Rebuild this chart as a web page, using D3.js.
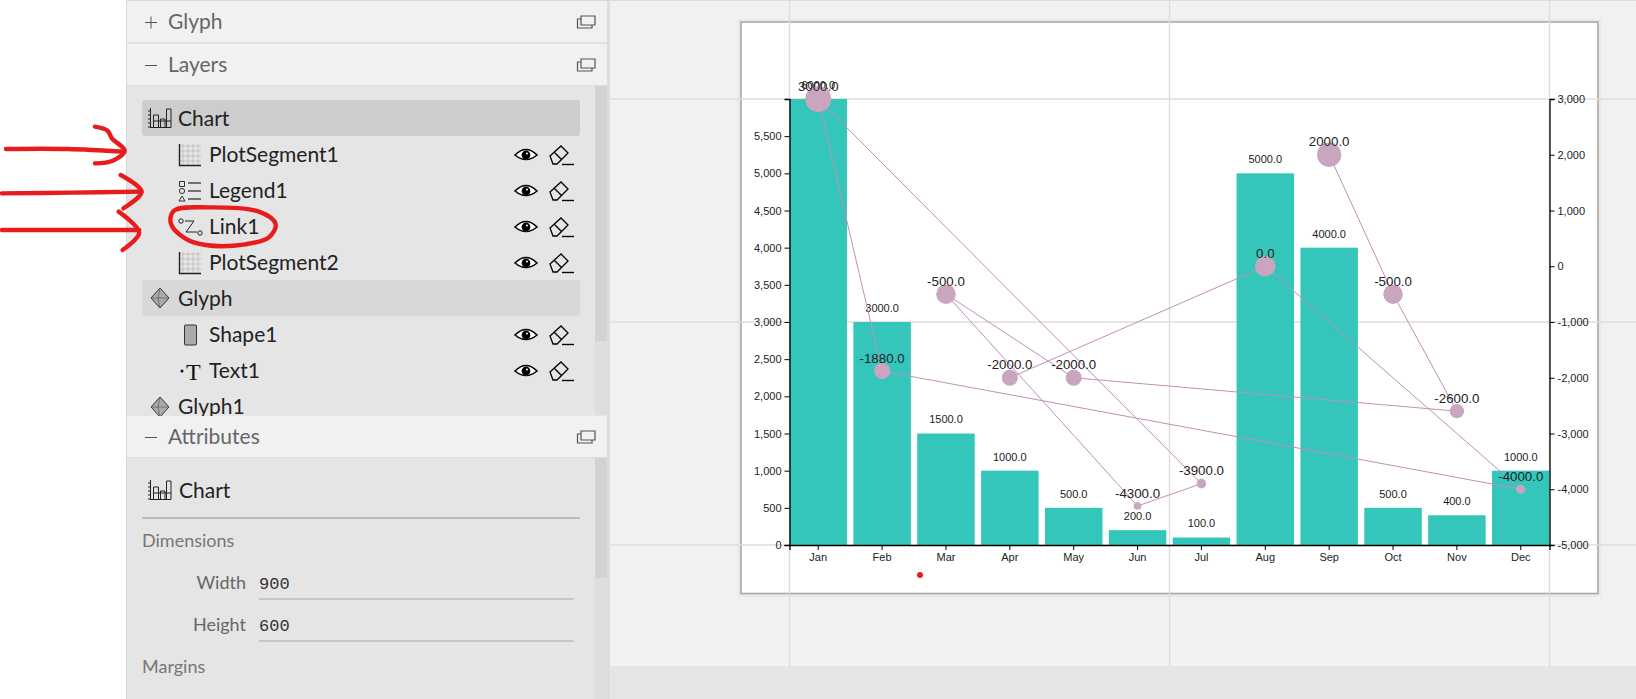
<!DOCTYPE html>
<html>
<head>
<meta charset="utf-8">
<script src="https://cdn.jsdelivr.net/npm/d3@7"></script>
<style>
  html, body { margin: 0; padding: 0; background: #fff; overflow: hidden; }
  svg { display: block; }
  .ui { font-family: Lato, "Open Sans", sans-serif; }
  .chart text { font-family: "Liberation Sans", Arial, sans-serif; fill: #222; }
</style>
</head>
<body>
<svg id="page" width="1636" height="699"></svg>
<script>
// chart values
const months = ["Jan", "Feb", "Mar", "Apr", "May", "Jun", "Jul", "Aug", "Sep", "Oct", "Nov", "Dec"];
const barValues = [6000, 3000, 1500, 1000, 500, 200, 100, 5000, 4000, 500, 400, 1000];
const dotValues = [3000, -1880, -500, -2000, -2000, -4300, -3900, 0, 2000, -500, -2600, -4000];
const leftTicks = [0, 500, 1000, 1500, 2000, 2500, 3000, 3500, 4000, 4500, 5000, 5500];
const rightTicks = [-5000, -4000, -3000, -2000, -1000, 0, 1000, 2000, 3000];
const linkFrom = ["Jan", "Jan", "Feb", "Mar", "Mar", "Apr", "May", "Jun", "Aug", "Sep", "Oct"];
const linkTo = ["Feb", "Jul", "Dec", "May", "Jun", "Aug", "Nov", "Jul", "Dec", "Oct", "Nov"];

// side panel text
const layerNames = ["PlotSegment1", "Legend1", "Link1", "PlotSegment2"];
const layerIcons = ["grid", "legend", "link", "grid"];
const glyphNames = ["Shape1", "Text1"];
const glyphIcons = ["shape", "text"];
const dimensionNames = ["Width", "Height"];
const dimensionValues = ["900", "600"];

const svg = d3.select("#page");
const ui = svg.append("g").attr("class", "ui");

function box(parent, x, y, w, h, fill) {
  return parent.append("rect").attr("x", x).attr("y", y).attr("width", w).attr("height", h).attr("fill", fill);
}

function label(parent, x, y, txt, size, fill, anchor) {
  return parent.append("text")
    .attr("x", x).attr("y", y)
    .attr("dy", "0.35em")
    .attr("text-anchor", anchor || "start")
    .style("font-size", size + "px")
    .style("fill", fill)
    .text(txt);
}

function stroke(parent, d, color, width) {
  return parent.append("path").attr("d", d).attr("fill", "none").attr("stroke", color).attr("stroke-width", width || 1);
}

// ---- icons ----
function eyeIcon(cy) {
  const g = ui.append("g").attr("transform", `translate(526,${cy})`);
  g.append("path").attr("d", "M-11,0 Q0,-11 11,0 Q0,9 -11,0 Z").attr("fill", "#fff").attr("stroke", "#000").attr("stroke-width", 1.6);
  g.append("circle").attr("r", 4.4).attr("fill", "#000");
  g.append("circle").attr("cx", 1).attr("cy", -1.5).attr("r", 1).attr("fill", "#fff");
}

function eraserIcon(cy) {
  const g = ui.append("g").attr("transform", `translate(550,${cy})`);
  stroke(g, "M0,1 L11,-9 L18,-2 L7,9 L3,9 Z M4,-3 L12,5", "#000", 1.3);
  stroke(g, "M12,9.5 H24", "#000", 1.4);
}

function windowIcon(cy) {
  const g = ui.append("g").attr("transform", `translate(577,${cy})`);
  stroke(g, "M4,-6 H18 V3 H4 Z", "#555", 1.2);
  stroke(g, "M4,-3 H0.5 V6 H15 V3", "#555", 1.2);
}

function gridIcon(cy) {
  const g = ui.append("g").attr("transform", `translate(179,${cy - 11})`);
  [4, 9, 14, 19].forEach(p => {
    stroke(g, `M${p},0 V22`, "#bbb", 0.8);
    stroke(g, `M0,${p - 2} H22`, "#bbb", 0.8);
  });
  stroke(g, "M0.5,0 V21.5 H22", "#222", 1.4);
}

function legendIcon(cy) {
  const g = ui.append("g").attr("transform", `translate(179,${cy - 10})`);
  stroke(g, "M0.5,0.5 H5.5 V5.5 H0.5 Z", "#333", 1);
  g.append("circle").attr("cx", 3).attr("cy", 10).attr("r", 2.6).attr("fill", "none").attr("stroke", "#333");
  stroke(g, "M3,15 L6,20 H0 Z", "#333", 1);
  [2, 10, 18].forEach(p => stroke(g, `M9,${p} H22`, "#555", 1.6));
}

function linkIcon(cy) {
  const g = ui.append("g").attr("transform", `translate(178,${cy - 8})`);
  g.append("circle").attr("cx", 3).attr("cy", 2).attr("r", 2.2).attr("fill", "none").attr("stroke", "#222");
  g.append("circle").attr("cx", 22).attr("cy", 14).attr("r", 2.2).attr("fill", "none").attr("stroke", "#222");
  stroke(g, "M7,2 H16 L8,13 H19", "#222", 1);
}

function chartIcon(cy) {
  const g = ui.append("g").attr("transform", `translate(148,${cy - 10})`);
  stroke(g, "M2.5,0 V20 M0,3 H3 M0,7 H3 M0,11 H3 M0,15 H3 M0,19 H3", "#222", 1);
  stroke(g, "M5.5,7 H10.5 V19.5 H5.5 Z M12.5,11 H17 V19.5 H12.5 Z M18.5,1 H23 V19.5 H18.5 Z", "#222", 1);
  stroke(g, "M3,19.5 H23 M5.5,13 H23", "#222", 1);
}

function glyphIcon(cy) {
  const g = ui.append("g").attr("transform", `translate(160,${cy})`);
  g.append("path").attr("d", "M0,-10 L9,0 L0,10 L-9,0 Z").attr("fill", "#aaa").attr("stroke", "#333").attr("stroke-width", 1);
  stroke(g, "M0,-10 L-2,0 L0,10 M-9,0 L9,0", "#666", 0.8);
}

function shapeIcon(cy) {
  ui.append("rect").attr("x", 184.5).attr("y", cy - 10).attr("width", 12).attr("height", 20).attr("rx", 1)
    .attr("fill", "#aaa").attr("stroke", "#333");
}

function textIcon(cy) {
  ui.append("circle").attr("cx", 182).attr("cy", cy).attr("r", 1.5).attr("fill", "#111");
  ui.append("text").attr("x", 186).attr("y", cy + 8.5).style("font-family", "'Liberation Serif', serif").style("font-size", "24px").style("fill", "#111").text("T");
}

const iconDraw = { grid: gridIcon, legend: legendIcon, link: linkIcon, shape: shapeIcon, text: textIcon };

// ---- page frame ----
function drawPanel() {
  box(ui, 126, 0, 484, 699, "#e5e5e5");
  box(ui, 126, 0, 1, 699, "#d8d8d8");
  box(ui, 595, 85, 12, 256, "#d2d2d2");
  box(ui, 595, 341, 12, 74, "#dedede");
  box(ui, 595, 457, 12, 121, "#d2d2d2");
  box(ui, 595, 578, 12, 121, "#dedede");
  box(ui, 607, 0, 3, 699, "#dcdcdc");

  // layers list
  box(ui, 142, 100, 438, 36, "#cdcdcd").attr("rx", 3);
  chartIcon(118);
  label(ui, 178, 119, "Chart", 21, "#222");
  layerNames.forEach((name, i) => {
    const cy = 155 + i * 36;
    iconDraw[layerIcons[i]](cy);
    label(ui, 209, cy, name, 21, "#222");
    eyeIcon(cy);
    eraserIcon(cy);
  });
  box(ui, 142, 280, 438, 36, "#d8d8d8").attr("rx", 3);
  glyphIcon(298);
  label(ui, 178, 299, "Glyph", 21, "#222");
  glyphNames.forEach((name, i) => {
    const cy = 335 + i * 36;
    iconDraw[glyphIcons[i]](cy);
    label(ui, 209, cy, name, 21, "#222");
    eyeIcon(cy);
    eraserIcon(cy);
  });
  glyphIcon(407);
  label(ui, 178, 407, "Glyph1", 21, "#222");

  // section headers
  [[0, "+", "Glyph"], [43, "-", "Layers"], [415, "-", "Attributes"]].forEach(h => {
    box(ui, 127, h[0] + 1, 480, 41, "#f1f1f1");
    box(ui, 127, h[0] + 42, 480, 1, "#dedede");
    stroke(ui, `M145,${h[0] + 22.5} H157`, "#555", 1);
    if (h[1] === "+") stroke(ui, `M151,${h[0] + 16.5} V${h[0] + 28.5}`, "#555", 1);
    label(ui, 168, h[0] + 22, h[2], 21, "#666");
    windowIcon(h[0] + 22);
  });
  box(ui, 126, 0, 484, 1, "#d8d8d8");

  // attributes
  chartIcon(490);
  label(ui, 179, 491, "Chart", 21, "#222");
  box(ui, 142, 517, 438, 2, "#bcbcbc");
  label(ui, 142, 541, "Dimensions", 18, "#777");
  dimensionNames.forEach((name, i) => {
    const cy = 583 + i * 42;
    label(ui, 246, cy, name, 18, "#666", "end");
    label(ui, 259, cy, dimensionValues[i], 17, "#333").style("font-family", "'Liberation Mono', monospace");
    box(ui, 259, cy + 15, 315, 2, "#c6c6c6");
  });
  label(ui, 142, 667, "Margins", 18, "#777");
}

// ---- chart ----
const plot = { left: 789.5, right: 1549.5, top: 99, bottom: 545 };

const x = d3.scaleBand().domain(months).range([plot.left, plot.right]).paddingInner(0.1).paddingOuter(0);
const yLeft = d3.scaleLinear().domain([0, 6000]).range([plot.bottom, plot.top]);
const yRight = d3.scaleLinear().domain([-5000, 3000]).range([plot.bottom, plot.top]);
// circle area grows from the bottom of the right axis
const radius = d3.scaleSqrt().domain([0, 8000]).range([0, 13]);
const dotRadius = v => radius(v - yRight.domain()[0]);

const dotByMonth = new Map(months.map((m, i) => [m, dotValues[i]]));
const fmt = d => d3.format(",")(d).replace("\u2212", "-");
const one = d => d.toFixed(1);

function drawCanvas() {
  box(svg, 610, 0, 1026, 699, "#f1f1f1");
  box(svg, 610, 0, 1026, 1, "#dcdcdc");
  box(svg, 610, 666, 1026, 33, "#e5e5e5");

  // the chart sheet
  box(svg, 738, 19, 863, 578, "#e9e9e9");
  svg.append("rect").attr("x", 741).attr("y", 22).attr("width", 857).attr("height", 571.5)
    .attr("fill", "#fff").attr("stroke", "#a8a8a8").attr("stroke-width", 1.6);

  // snapping guides
  [plot.left, (plot.left + plot.right) / 2, plot.right].forEach(g => {
    svg.append("line").attr("x1", g).attr("x2", g).attr("y1", 0).attr("y2", 666)
      .attr("stroke", "#dcdcdc").attr("stroke-width", 1.4);
  });
  [plot.top, (plot.top + plot.bottom) / 2, plot.bottom].forEach(g => {
    svg.append("line").attr("x1", 610).attr("x2", 1636).attr("y1", g).attr("y2", g)
      .attr("stroke", "#dedede").attr("stroke-width", 1.4);
  });
}

function drawChart() {
  const chart = svg.append("g").attr("class", "chart");

  chart.selectAll("rect.bar")
    .data(months)
    .join("rect")
    .attr("class", "bar")
    .attr("x", d => x(d))
    .attr("width", x.bandwidth())
    .attr("y", (d, i) => yLeft(barValues[i]))
    .attr("height", (d, i) => plot.bottom - yLeft(barValues[i]))
    .attr("fill", "#34c6bb");

  chart.selectAll("text.barLabel")
    .data(months)
    .join("text")
    .attr("class", "barLabel")
    .attr("x", d => x(d) + x.bandwidth() / 2)
    .attr("y", (d, i) => yLeft(barValues[i]) - 14)
    .attr("dy", "0.35em")
    .attr("text-anchor", "middle")
    .style("font-size", "11px")
    .text((d, i) => one(barValues[i]));

  const cx = m => x(m) + x.bandwidth() / 2;

  chart.selectAll("line.link")
    .data(linkFrom)
    .join("line")
    .attr("class", "link")
    .attr("x1", d => cx(d))
    .attr("y1", d => yRight(dotByMonth.get(d)))
    .attr("x2", (d, i) => cx(linkTo[i]))
    .attr("y2", (d, i) => yRight(dotByMonth.get(linkTo[i])))
    .attr("stroke", "#c08fb6")
    .attr("stroke-width", 1);

  chart.selectAll("circle.dot")
    .data(months)
    .join("circle")
    .attr("class", "dot")
    .attr("cx", d => cx(d))
    .attr("cy", (d, i) => yRight(dotValues[i]))
    .attr("r", (d, i) => dotRadius(dotValues[i]))
    .attr("fill", "#c9a5c0");

  chart.selectAll("text.dotLabel")
    .data(months)
    .join("text")
    .attr("class", "dotLabel")
    .attr("x", d => cx(d))
    .attr("y", (d, i) => yRight(dotValues[i]) - 13)
    .attr("dy", "0.35em")
    .attr("text-anchor", "middle")
    .style("font-size", "13.3px")
    .text((d, i) => one(dotValues[i]));

  const axes = [
    [d3.axisLeft(yLeft).tickValues(leftTicks).tickFormat(fmt), plot.left, 0],
    [d3.axisRight(yRight).tickValues(rightTicks).tickFormat(fmt), plot.right, 0],
    [d3.axisBottom(x), 0, plot.bottom]
  ];
  axes.forEach(a => {
    const g = chart.append("g")
      .attr("transform", `translate(${a[1]},${a[2]})`)
      .call(a[0].tickSize(5).tickPadding(3));
    g.selectAll("text").style("font-size", "11px").style("font-family", "'Liberation Sans', Arial, sans-serif");
    g.select(".domain").attr("stroke-width", 1.3);
  });
}

// ---- hand drawn red marks on the screenshot ----
function drawScribbles() {
  const red = "#e81c1c";
  const pen = d3.line().curve(d3.curveCatmullRom.alpha(0.5));
  const sx = 1 / 2.529, sy = 1 / 3;
  const scale = pts => pts.map(p => [p[0] * sx, p[1] * sy]);
  const strokes = [
    [[15, 447], [170, 447], [315, 455]],
    [[240, 380], [272, 392], [283, 415], [315, 452], [285, 482], [240, 490]],
    [[5, 580], [180, 578], [358, 575]],
    [[305, 525], [358, 575], [312, 625]],
    [[5, 690], [180, 690], [352, 690]],
    [[300, 635], [352, 698], [310, 750]]
  ];
  strokes.forEach(s => {
    svg.append("path").attr("d", pen(scale(s))).attr("fill", "none")
      .attr("stroke", red).attr("stroke-width", 4.4).attr("stroke-linecap", "round").attr("stroke-linejoin", "round");
  });
  const ring = d3.line().curve(d3.curveCatmullRomClosed.alpha(0.5));
  svg.append("path")
    .attr("d", ring(scale([[440, 632], [530, 622], [655, 635], [697, 672], [680, 712], [620, 733], [520, 735], [468, 715], [432, 670]])))
    .attr("fill", "none").attr("stroke", red).attr("stroke-width", 4.4);

  svg.append("circle").attr("cx", 920).attr("cy", 575).attr("r", 3).attr("fill", red);
}

drawCanvas();
drawPanel();
drawChart();
drawScribbles();
</script>
</body>
</html>
